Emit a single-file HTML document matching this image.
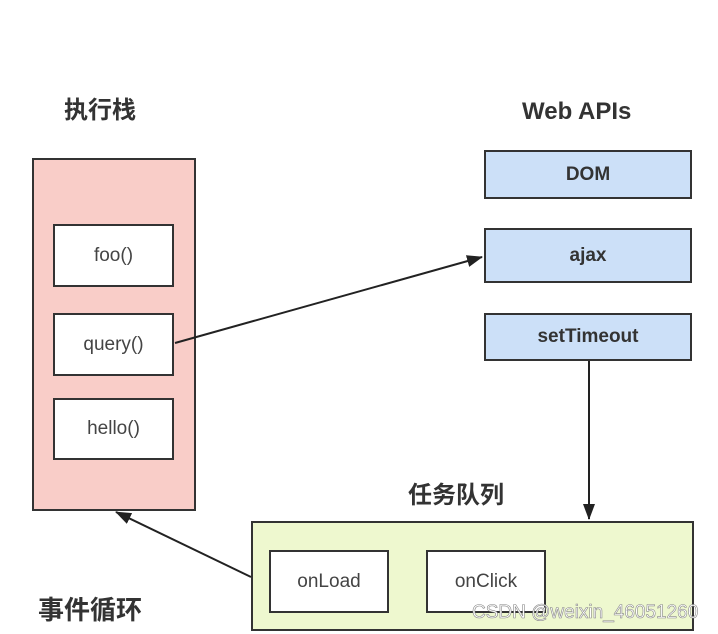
<!DOCTYPE html>
<html><head><meta charset="utf-8"><style>
html,body{margin:0;padding:0;background:#fff;}
body{width:718px;height:634px;position:relative;overflow:hidden;font-family:"Liberation Sans","Noto Sans CJK SC",sans-serif;color:#333;}
.b{position:absolute;box-sizing:border-box;border:2px solid #333;display:flex;align-items:center;justify-content:center;}
.w{background:#fff;font-size:19px;color:#444;}
.blue{background:#cce0f8;font-weight:bold;font-size:19px;color:#333;}
.t{position:absolute;font-weight:bold;color:#333;white-space:nowrap;}
</style></head><body>
<div class="t" style="left:64px;top:90px;font-size:24px;">执行栈</div>
<div class="t" style="left:522px;top:98px;font-size:24px;">Web APIs</div>
<div class="t" style="left:408px;top:475px;font-size:24px;">任务队列</div>
<div class="t" style="left:38px;top:590px;font-size:26px;">事件循环</div>

<div class="b" style="left:32px;top:158px;width:164px;height:353px;background:#f9cdc8;"></div>
<div class="b w" style="left:53px;top:224px;width:121px;height:63px;">foo()</div>
<div class="b w" style="left:53px;top:313px;width:121px;height:63px;">query()</div>
<div class="b w" style="left:53px;top:398px;width:121px;height:62px;">hello()</div>

<div class="b blue" style="left:484px;top:150px;width:208px;height:49px;">DOM</div>
<div class="b blue" style="left:484px;top:228px;width:208px;height:55px;">ajax</div>
<div class="b blue" style="left:484px;top:313px;width:208px;height:48px;">setTimeout</div>

<div class="b" style="left:251px;top:521px;width:443px;height:110px;background:#eef8cf;"></div>
<div class="b w" style="left:269px;top:550px;width:120px;height:63px;">onLoad</div>
<div class="b w" style="left:426px;top:550px;width:120px;height:63px;">onClick</div>

<svg width="718" height="634" style="position:absolute;left:0;top:0;">
<defs><marker id="b" markerWidth="16" markerHeight="12" refX="15" refY="6" orient="auto" markerUnits="userSpaceOnUse"><path d="M0,0 L16,6 L0,12 z" fill="#222"/></marker></defs>
<line x1="175" y1="343" x2="482" y2="257" stroke="#222" stroke-width="2" marker-end="url(#b)"/>
<line x1="589" y1="361" x2="589" y2="519" stroke="#222" stroke-width="2" marker-end="url(#b)"/>
<line x1="251" y1="577" x2="116" y2="512" stroke="#222" stroke-width="2" marker-end="url(#b)"/>
</svg>
<div style="position:absolute;left:472px;top:602px;font-size:19px;color:#fff;-webkit-text-stroke:0.6px #888;white-space:nowrap;">CSDN @weixin_46051260</div>
</body></html>
